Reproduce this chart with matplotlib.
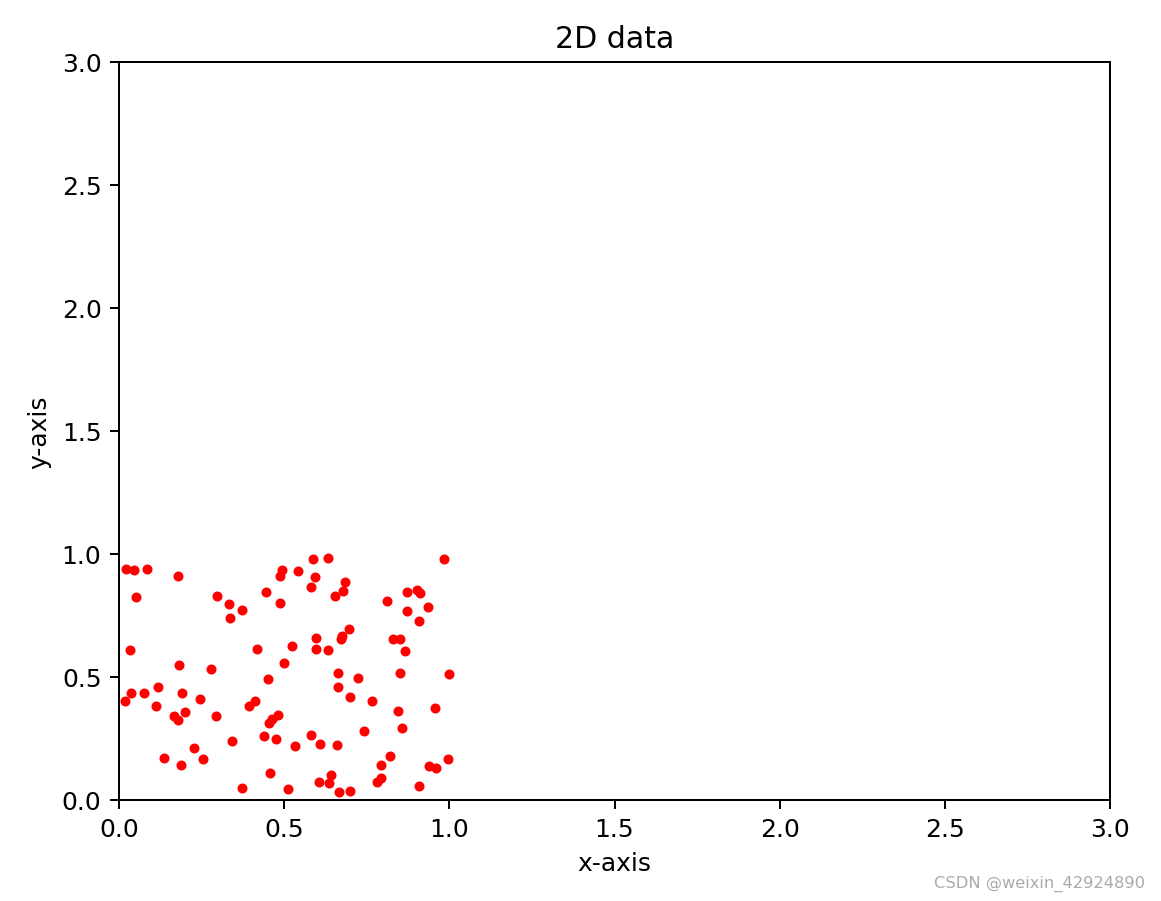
import matplotlib
matplotlib.use("Agg")
import matplotlib.pyplot as plt

x = [0.020,0.046,0.086,0.179,0.051,0.297,0.334,0.373,0.337,0.446,0.488,0.487,0.494,0.543,0.587,0.634,0.594,0.581,0.655,0.679,0.685,0.985,0.811,0.872,0.903,0.910,0.872,0.936,0.909,0.033,0.418,0.524,0.499,0.597,0.597,0.634,0.672,0.676,0.696,0.828,0.850,0.866,0.182,0.280,0.451,0.663,0.724,0.851,1.000,0.663,0.699,0.767,0.845,0.958,0.857,0.742,0.036,0.019,0.076,0.119,0.192,0.245,0.113,0.166,0.180,0.201,0.294,0.395,0.413,0.454,0.462,0.482,0.343,0.439,0.476,0.534,0.582,0.609,0.661,0.137,0.188,0.228,0.253,0.373,0.458,0.513,0.605,0.637,0.643,0.666,0.700,0.781,0.792,0.792,0.821,0.909,0.938,0.959,0.997]
y = [0.939,0.935,0.939,0.911,0.824,0.829,0.795,0.772,0.740,0.844,0.799,0.912,0.936,0.932,0.978,0.982,0.905,0.864,0.828,0.851,0.886,0.980,0.808,0.844,0.855,0.840,0.767,0.783,0.726,0.608,0.612,0.625,0.556,0.657,0.612,0.608,0.653,0.667,0.694,0.653,0.653,0.604,0.547,0.531,0.491,0.515,0.495,0.515,0.512,0.458,0.417,0.401,0.360,0.374,0.293,0.279,0.434,0.402,0.434,0.458,0.434,0.409,0.381,0.341,0.324,0.356,0.340,0.381,0.401,0.312,0.329,0.347,0.238,0.259,0.247,0.220,0.263,0.226,0.224,0.171,0.142,0.211,0.165,0.047,0.108,0.043,0.072,0.070,0.100,0.031,0.035,0.072,0.089,0.141,0.178,0.056,0.137,0.129,0.165]

fig = plt.figure(figsize=(6.45, 5.011), dpi=180)
ax = fig.add_axes([119/1161, 1-801/902, (1110-119)/1161, (801-63)/902])
ax.plot(x, y, 'r.')
ax.set_xlim(0, 3)
ax.set_ylim(0, 3)
ax.set_title('2D data')
ax.set_xlabel('x-axis')
ax.set_ylabel('y-axis')
fig.text(1145/1161, 1-884/902, 'CSDN @weixin_42924890', ha='right', va='center', fontsize=6.5, color='#aaaaaa')
fig.savefig('out.png', dpi=180)
